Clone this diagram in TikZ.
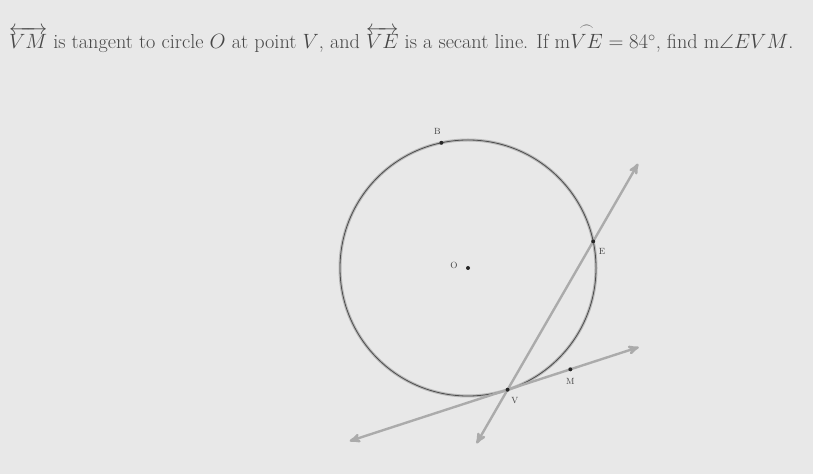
\documentclass[tikz,border=0pt]{standalone}
\usepackage{amsmath}
\usepackage{amssymb}
\usepackage{tikz}
\usetikzlibrary{arrows}
\usetikzlibrary{calc}
\usetikzlibrary{positioning}
\tikzset{
    pt_node/.style = {circle, fill=black!85, inner sep=0pt, minimum size=4bp},
    lbl/.style = {inner sep=1bp, font=\fontsize{9}{10}\selectfont, text=black!75},
    ray_line/.style = {<->, >=stealth', line width=2.4bp, draw=black!33},
    rim/.style = {line width=3bp, draw=black!28},
    rim_ink/.style = {line width=0.8bp, draw=black!70}
}

\begin{document}
\begin{tikzpicture}
    \fill[black!9] (0,0) rectangle (813bp,474bp);
    \useasboundingbox (0,0) rectangle (813bp,474bp);
    % question text
    \node[anchor=base west, inner sep=0pt, font=\fontsize{20.3}{22}\selectfont, text=black!72] (question) at (9bp,425bp)
        {$\overleftrightarrow{VM}$ is tangent to circle $O$ at point $V$, and $\overleftrightarrow{VE}$ is a secant line. If m$\overset{\frown}{VE}=84^\circ$, find m$\angle EVM$.};
    % circle and points on it
    \coordinate (O) at (468bp,206bp);
    \coordinate (V) at ($(O)+(-72:128bp)$);
    \coordinate (E) at ($(O)+(12:128bp)$);
    \coordinate (B) at ($(O)+(102:128bp)$);
    \coordinate (M) at ($(V)+(18:66bp)$);
    \coordinate (tan_l) at ($(V)+(198:166bp)$);
    \coordinate (tan_r) at ($(V)+(18:138bp)$);
    \coordinate (sec_l) at ($(V)+(240:62bp)$);
    \coordinate (sec_u) at ($(V)+(60:261bp)$);
    \draw[rim] (O) circle[radius=128bp];
    \draw[rim_ink] (O) circle[radius=128bp];
    % lines
    \draw[ray_line] (tan_l) -- (tan_r);
    \draw[ray_line] (sec_l) -- (sec_u);
    % dots
    \node[pt_node] (O_dot) at (O) {};
    \node[pt_node] (V_dot) at (V) {};
    \node[pt_node] (E_dot) at (E) {};
    \node[pt_node] (B_dot) at (B) {};
    \node[pt_node] (M_dot) at (M) {};
    % labels
    \node[lbl, above left=6bp and -2bp of B_dot] (B_lbl) {B};
    \node[lbl, below right=4bp and 3bp of E_dot] (E_lbl) {E};
    \node[lbl, below=6bp of M_dot] (M_lbl) {M};
    \node[lbl, below right=5bp and 1bp of V_dot] (V_lbl) {V};
    \node[lbl, left=7bp of O_dot, yshift=3bp] (O_lbl) {O};
\end{tikzpicture}
\end{document}
